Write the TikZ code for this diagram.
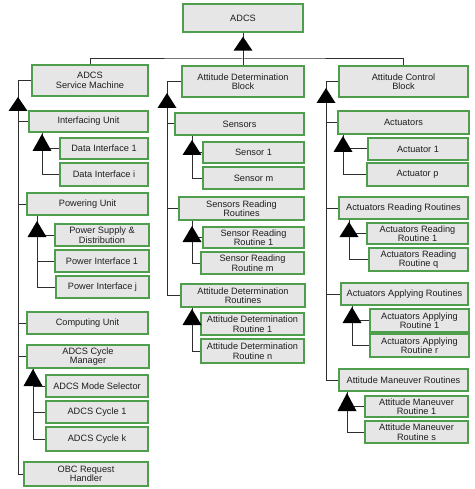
\documentclass[tikz,border=0pt]{standalone}
\usepackage{fontspec}
\setmainfont{Liberation Sans}
\usetikzlibrary{calc}
\definecolor{boxfill}{HTML}{E6E6E6}
\definecolor{boxline}{HTML}{4E9E4E}
\definecolor{conn}{HTML}{2E2E2E}
\definecolor{txt}{HTML}{1E1E1E}
\newcommand\bx[6]{\node[bx, minimum width={#4-#2}, minimum height={#5-#3}] (#1) at ({(#2+#4)/2},{(#3+#5)/2}) {#6};}
\newcommand\tri[3]{\fill[black] ($(#1)+(0,#2)$) -- ++(-9.5,#3) -- ++(19,0) -- cycle;}
\begin{document}
\begin{tikzpicture}[x=1pt,y=-1pt,
  bx/.style={draw=boxline, line width=1.4pt, fill=boxfill, inner sep=0pt, align=center,
    text=txt, font=\fontsize{9.2}{9.5}\selectfont},
  cn/.style={draw=conn, line width=1pt}]
\useasboundingbox (0,0) rectangle (474,489);
\fill[white] (0,0) rectangle (474,489);
% top
\bx{adcs}{183}{4}{303}{32}{ADCS}
\bx{sm}{32}{65}{148}{96}{ADCS\\Service Machine}
\bx{adb}{182}{66}{304}{97}{Attitude Determination\\Block}
\bx{acb}{339}{66}{468}{97}{Attitude Control\\Block}
% left column
\bx{iu}{29}{111}{148}{132}{Interfacing Unit}
\bx{di1}{60}{138}{148}{159}{Data Interface 1}
\bx{dii}{60}{163}{148}{186}{Data Interface i}
\bx{pu}{27}{193}{148}{215}{Powering Unit}
\bx{psd}{55}{224}{149}{246}{Power Supply \&\\Distribution}
\bx{pi1}{55}{250}{149}{272}{Power Interface 1}
\bx{pij}{56}{276}{149}{298}{Power Interface j}
\bx{cu}{27}{312}{148}{334}{Computing Unit}
\bx{cm}{27}{345}{149}{368}{ADCS Cycle\\Manager}
\bx{ms}{46}{375}{148}{397}{ADCS Mode Selector}
\bx{c1}{46}{401}{148}{423}{ADCS Cycle 1}
\bx{ck}{46}{427}{148}{451}{ADCS Cycle k}
\bx{obc}{24}{462}{148}{486}{OBC Request\\Handler}
% middle column
\bx{sen}{175}{113}{304}{135}{Sensors}
\bx{s1}{203}{142}{304}{163}{Sensor 1}
\bx{smm}{203}{167}{304}{189}{Sensor m}
\bx{srr}{179}{197}{304}{220}{Sensors Reading\\Routines}
\bx{srr1}{203}{227}{304}{248}{Sensor Reading\\Routine 1}
\bx{srrm}{201}{252}{304}{274}{Sensor Reading\\Routine m}
\bx{adr}{181}{284}{305}{307}{Attitude Determination\\Routines}
\bx{adr1}{201}{313}{304}{335}{Attitude Determination\\Routine 1}
\bx{adrn}{201}{339}{304}{363}{Attitude Determination\\Routine n}
% right column
\bx{act}{338}{111}{469}{134}{Actuators}
\bx{a1}{368}{138}{468}{160}{Actuator 1}
\bx{ap}{367}{163}{468}{186}{Actuator p}
\bx{arr}{339}{197}{468}{219}{Actuators Reading Routines}
\bx{arr1}{367}{223}{468}{244}{Actuators Reading\\Routine 1}
\bx{arrq}{369}{248}{468}{271}{Actuators Reading\\Routine q}
\bx{aar}{341}{283}{468}{305}{Actuators Applying Routines}
\bx{aar1}{370}{309}{469}{332}{Actuators Applying\\Routine 1}
\bx{aarr}{370}{334}{469}{357}{Actuators Applying\\Routine r}
\bx{amr}{339}{369}{468}{391}{Attitude Maneuver Routines}
\bx{amr1}{365}{396}{468}{417}{Attitude Maneuver\\Routine 1}
\bx{amrs}{365}{421}{468}{443}{Attitude Maneuver\\Routine s}

% trunk coordinates
\coordinate (hub) at (243,59);
\coordinate (tl) at (18,0);
\coordinate (tiu) at (42,0);
\coordinate (tpu) at (37,0);
\coordinate (tcm) at (33,0);
\coordinate (tm) at (167,0);
\coordinate (tsen) at (192,0);
\coordinate (tr) at (326,0);
\coordinate (tact) at (343,0);
\coordinate (tarr) at (349,0);
\coordinate (taar) at (352,0);
\coordinate (tamr) at (347,0);

% top connectors
\draw[cn] (adcs.south) -- (adb.north);
\draw[cn] (sm.north) |- (hub) -| (acb.north);
\tri{adcs.south}{4}{14}

% left main trunk
\draw[cn] (sm.west) -- (sm.west -| tl) -- (tl |- obc.west) -- (obc.west);
\foreach \n in {iu,pu,cu,cm} \draw[cn] (tl |- \n.west) -- (\n.west);
\tri{tl}{97}{14}
% interfacing unit
\draw[cn] (iu.south -| tiu) -- (tiu |- dii.west) -- (dii.west);
\draw[cn] (tiu |- di1.west) -- (di1.west);
\tri{tiu}{134}{17}
% powering unit
\draw[cn] (pu.south -| tpu) -- (tpu |- pij.west) -- (pij.west);
\foreach \n in {psd,pi1} \draw[cn] (tpu |- \n.west) -- (\n.west);
\tri{tpu}{221}{16}
% cycle manager
\draw[cn] (cm.south -| tcm) -- (tcm |- ck.west) -- (ck.west);
\foreach \n in {ms,c1} \draw[cn] (tcm |- \n.west) -- (\n.west);
\tri{tcm}{369}{17}

% middle main trunk
\draw[cn] (adb.west) -- (adb.west -| tm) -- (tm |- adr.west) -- (adr.west);
\foreach \n in {sen,srr} \draw[cn] (tm |- \n.west) -- (\n.west);
\tri{tm}{93}{15}
% sensors
\draw[cn] (sen.south -| tsen) -- (tsen |- smm.west) -- (smm.west);
\draw[cn] (tsen |- s1.west) -- (s1.west);
\tri{tsen}{140}{15}
% sensors reading routines
\draw[cn] (srr.south -| tsen) -- (tsen |- srrm.west) -- (srrm.west);
\draw[cn] (tsen |- srr1.west) -- (srr1.west);
\tri{tsen}{226}{16}
% attitude determination routines
\draw[cn] (adr.south -| tsen) -- (tsen |- adrn.west) -- (adrn.west);
\draw[cn] (tsen |- adr1.west) -- (adr1.west);
\tri{tsen}{309}{16}

% right main trunk
\draw[cn] (acb.west) -- (acb.west -| tr) -- (tr |- amr.west) -- (amr.west);
\foreach \n in {act,arr,aar} \draw[cn] (tr |- \n.west) -- (\n.west);
\tri{tr}{88}{15}
% actuators
\draw[cn] (act.south -| tact) -- (tact |- ap.west) -- (ap.west);
\draw[cn] (tact |- a1.west) -- (a1.west);
\tri{tact}{136}{16}
% actuators reading routines
\draw[cn] (arr.south -| tarr) -- (tarr |- arrq.west) -- (arrq.west);
\draw[cn] (tarr |- arr1.west) -- (arr1.west);
\tri{tarr}{222}{15}
% actuators applying routines
\draw[cn] (aar.south -| taar) -- (taar |- aarr.west) -- (aarr.west);
\draw[cn] (taar |- aar1.west) -- (aar1.west);
\tri{taar}{307}{16}
% attitude maneuver routines
\draw[cn] (amr.south -| tamr) -- (tamr |- amrs.west) -- (amrs.west);
\draw[cn] (tamr |- amr1.west) -- (amr1.west);
\tri{tamr}{393}{18}
\end{tikzpicture}
\end{document}
